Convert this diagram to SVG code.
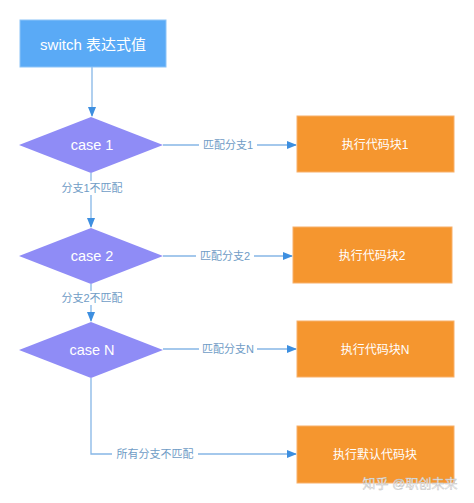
<svg xmlns="http://www.w3.org/2000/svg" width="474" height="503" viewBox="0 0 474 503">
<defs>
<marker id="arr" markerWidth="10" markerHeight="8" refX="9" refY="4" orient="auto" markerUnits="userSpaceOnUse">
<path d="M0,0 L10,4 L0,8 Z" fill="#3d8fe0"/>
</marker>
<style>
.edge{fill:none;stroke:#86b6e6;stroke-width:1.3}
.lbl{font-family:"Liberation Sans","Noto Sans CJK SC",sans-serif;font-size:11px;fill:#6f9cc6;text-anchor:middle;dominant-baseline:central}
.bg{fill:#ffffff}
.box{fill:#f5962f;stroke:#f8b06a;stroke-width:1}
.dia{fill:#8f8cf6}
.txt{font-family:"Liberation Sans","Noto Sans CJK SC",sans-serif;fill:#ffffff;text-anchor:middle;dominant-baseline:central}
</style>
</defs>
<rect width="474" height="503" fill="#ffffff"/>
<g id="connectors">
<path class="edge" d="M92,67 V116" marker-end="url(#arr)"/>
<path class="edge" d="M163,145 H296" marker-end="url(#arr)"/>
<path class="edge" d="M91,173 V227" marker-end="url(#arr)"/>
<path class="edge" d="M163,256 H292" marker-end="url(#arr)"/>
<path class="edge" d="M91,284 V321" marker-end="url(#arr)"/>
<path class="edge" d="M163,349 H296" marker-end="url(#arr)"/>
<path class="edge" d="M91,378 V454 H296" marker-end="url(#arr)"/>
<rect class="bg" x="199" y="138" width="58" height="14"/>
<text class="lbl" x="228" y="145">匹配分支1</text>
<rect class="bg" x="196" y="249" width="58" height="14"/>
<text class="lbl" x="225" y="256">匹配分支2</text>
<rect class="bg" x="199" y="342" width="58" height="14"/>
<text class="lbl" x="228" y="349">匹配分支N</text>
<rect class="bg" x="58" y="181" width="68" height="14"/>
<text class="lbl" x="92" y="188">分支1不匹配</text>
<rect class="bg" x="58" y="291" width="68" height="14"/>
<text class="lbl" x="92" y="298">分支2不匹配</text>
<rect class="bg" x="112" y="447" width="86" height="14"/>
<text class="lbl" x="155" y="454">所有分支不匹配</text>
</g>
<g id="start">
<rect x="20" y="20" width="146" height="47" fill="#5aaaf6" stroke="#8cc4f8" stroke-width="1"/>
<text class="txt" x="93" y="44" font-size="15">switch 表达式值</text>
</g>
<g id="case1">
<polygon class="dia" points="91,117 163,145 91,173 19,145"/>
<text class="txt" x="92" y="145" font-size="14.5">case 1</text>
</g>
<g id="case2">
<polygon class="dia" points="91,228 163,256 91,284 19,256"/>
<text class="txt" x="92" y="256" font-size="14.5">case 2</text>
</g>
<g id="caseN">
<polygon class="dia" points="91,322 163,350 91,378 19,350"/>
<text class="txt" x="92" y="350" font-size="14.5">case N</text>
</g>
<g id="block1">
<rect class="box" x="297" y="116" width="157" height="56"/>
<text class="txt" x="375" y="145" font-size="12">执行代码块1</text>
</g>
<g id="block2">
<rect class="box" x="293" y="227" width="159" height="56"/>
<text class="txt" x="372" y="256" font-size="12">执行代码块2</text>
</g>
<g id="blockN">
<rect class="box" x="297" y="321" width="157" height="56"/>
<text class="txt" x="375" y="350" font-size="12">执行代码块N</text>
</g>
<g id="default">
<rect class="box" x="297" y="426" width="157" height="57"/>
<text class="txt" x="375" y="455" font-size="12">执行默认代码块</text>
</g>
<text x="410" y="483" font-family="Liberation Sans,'Noto Sans CJK SC',sans-serif" font-size="13" fill="#f6f6f6" stroke="#bdbdbd" stroke-width="0.4" text-anchor="middle" dominant-baseline="central">知乎 @职创未来</text>
</svg>
